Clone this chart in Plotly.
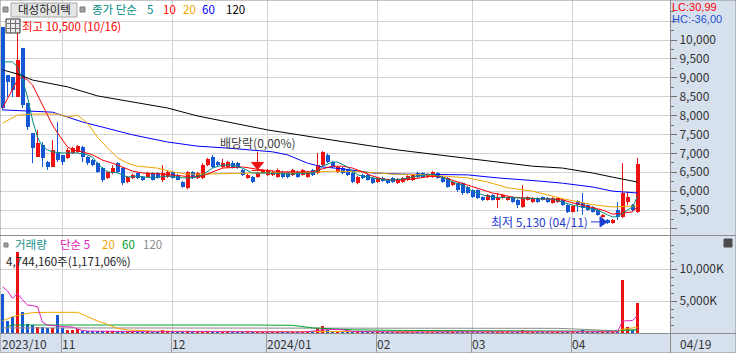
import plotly.graph_objects as go

W, H = 736, 353
FONT = "Noto Sans CJK KR"
LATIN = "Liberation Sans"

# ---------------- data ----------------
oct_days = [16, 17, 18, 19, 20, 23, 24, 25, 26, 27, 30, 31]
nov_days = [1, 2, 3, 6, 7, 8, 9, 10, 13, 14, 15, 16, 17, 20, 21, 22, 23, 24, 27, 28, 29, 30]
dec_days = [1, 4, 5, 6, 7, 8, 11, 12, 13, 14, 15, 18, 19, 20, 21, 22, 26, 27, 28]
jan_days = [2, 3, 4, 5, 8, 9, 10, 11, 12, 15, 16, 17, 18, 19, 22, 23, 24, 25, 26, 29, 30, 31]
feb_days = [1, 2, 5, 6, 7, 8, 13, 14, 15, 16, 19, 20, 21, 22, 23, 26, 27, 28, 29]
mar_days = [4, 5, 6, 7, 8, 11, 12, 13, 14, 15, 18, 19, 20, 21, 22, 25, 26, 27, 28, 29]
apr_days = [1, 2, 3, 4, 5, 8, 9, 11, 12, 15, 16, 17, 18, 19]

dates = ([f"2023-10-{d:02d}" for d in oct_days] + [f"2023-11-{d:02d}" for d in nov_days] +
         [f"2023-12-{d:02d}" for d in dec_days] + [f"2024-01-{d:02d}" for d in jan_days] +
         [f"2024-02-{d:02d}" for d in feb_days] + [f"2024-03-{d:02d}" for d in mar_days] +
         [f"2024-04-{d:02d}" for d in apr_days])

month_prefix = ["2023-10", "2023-11", "2023-12", "2024-01", "2024-02", "2024-03", "2024-04"]
month_text = ["2023/10", "11", "12", "2024/01", "02", "03", "04"]

open_ = [10340, 9070, 9020, 8490, 9790, 8330, 7540, 6900, 7220, 6770,
         6640, 7010, 6960, 6880, 7010, 7040, 7170, 6900, 6820, 6740,
         6610, 6350, 6480, 6740, 6610, 6240, 6350, 6480, 6370, 6370,
         6480, 6480, 6300, 6370, 6500, 6430, 6240, 6080, 6500, 6350,
         6350, 6690, 6900, 6770, 6640, 6640, 6740, 6740, 6560, 6350,
         6370, 6370, 6480, 6430, 6430, 6370, 6510, 6500, 6430, 6510,
         6430, 6380, 6560, 6480, 6690, 6960, 6770, 6510, 6610, 6560,
         6480, 6210, 6430, 6430, 6350, 6240, 6350, 6300, 6350, 6210,
         6240, 6290, 6290, 6480, 6480, 6370, 6370, 6480, 6370, 6350,
         6160, 6210, 6210, 6110, 6030, 6030, 5840, 5770, 5900, 5770,
         5820, 5770, 5840, 5770, 5580, 5770, 5710, 5820, 5840, 5820,
         5690, 5710, 5770, 5630, 5450, 5740, 5690, 5630, 5580, 5500,
         5320, 5240, 5160, 5500, 5315, 5710, 5630, 5450]
high = [10340, 9070, 9020, 10500, 9790, 8330, 7540, 7620, 7300, 6800,
        7350, 7830, 6960, 7140, 7170, 7220, 7200, 6930, 6850, 6770,
        6640, 6530, 6690, 6770, 6640, 6400, 6460, 6500, 6400, 6510,
        6500, 6500, 6690, 6530, 6530, 6460, 6270, 6530, 6530, 6510,
        6740, 6880, 6960, 6800, 6850, 6800, 6800, 6770, 6590, 6460,
        6400, 6510, 6590, 6590, 6540, 6600, 6540, 6520, 6590, 6540,
        6590, 6540, 6590, 7010, 7060, 7000, 6800, 6660, 6640, 6590,
        6510, 6400, 6460, 6460, 6380, 6380, 6380, 6320, 6370, 6350,
        6370, 6420, 6450, 6510, 6500, 6470, 6530, 6500, 6390, 6370,
        6260, 6230, 6230, 6130, 6050, 6050, 5860, 5920, 5920, 5950,
        5920, 5860, 5860, 5790, 6160, 5860, 5840, 5840, 5860, 5840,
        5840, 5840, 5790, 5650, 5620, 5760, 5950, 5650, 5600, 5520,
        5390, 5260, 5260, 5710, 6740, 5980, 5660, 6880]
low = [8150, 8490, 8490, 8490, 8200, 7620, 6740, 6900, 6640, 6560,
       6640, 6770, 6690, 6850, 6980, 7010, 6770, 6690, 6660, 6480,
       6240, 6320, 6450, 6480, 6160, 6210, 6320, 6320, 6270, 6350,
       6280, 6330, 6240, 6350, 6330, 6300, 6090, 6050, 6320, 6320,
       6320, 6660, 6610, 6640, 6610, 6620, 6600, 6590, 6400, 6330,
       6210, 6350, 6460, 6400, 6400, 6350, 6340, 6340, 6400, 6350,
       6410, 6350, 6400, 6450, 6640, 6740, 6610, 6480, 6450, 6400,
       6210, 6180, 6320, 6280, 6190, 6220, 6250, 6190, 6220, 6190,
       6220, 6270, 6270, 6350, 6350, 6350, 6350, 6330, 6220, 6090,
       6140, 5980, 5900, 5930, 5820, 5790, 5740, 5750, 5750, 5550,
       5800, 5750, 5690, 5550, 5560, 5750, 5690, 5690, 5750, 5690,
       5670, 5690, 5610, 5420, 5430, 5450, 5370, 5480, 5430, 5350,
       5300, 5130, 5140, 5235, 5290, 5630, 5470, 5420]
close = [8200, 8890, 8680, 9470, 8280, 7700, 7140, 7270, 6880, 6640,
         7090, 6820, 6770, 7090, 7140, 7190, 6900, 6740, 6690, 6500,
         6300, 6500, 6610, 6500, 6210, 6370, 6430, 6350, 6300, 6480,
         6300, 6350, 6480, 6500, 6350, 6300, 6110, 6500, 6350, 6480,
         6690, 6850, 6640, 6690, 6740, 6770, 6610, 6610, 6430, 6430,
         6240, 6480, 6560, 6560, 6510, 6560, 6370, 6380, 6560, 6380,
         6560, 6510, 6430, 6690, 7040, 6770, 6640, 6640, 6480, 6430,
         6240, 6370, 6350, 6300, 6210, 6350, 6270, 6210, 6240, 6320,
         6350, 6400, 6430, 6370, 6370, 6450, 6510, 6350, 6240, 6110,
         6240, 6030, 5950, 5950, 5840, 5820, 5770, 5900, 5770, 5840,
         5900, 5840, 5710, 5630, 5820, 5840, 5820, 5710, 5770, 5710,
         5820, 5820, 5630, 5450, 5600, 5630, 5550, 5500, 5450, 5370,
         5370, 5160, 5240, 5315, 5950, 5840, 5500, 6720]

# volume, thousands of shares
volume_k = [6094, 1875, 2550, 12708, 3333, 1354, 1250, 990, 990, 730,
            730, 2810, 730, 470, 470, 570, 365, 260, 200, 300,
            350, 200, 250, 200, 300, 150, 150, 150, 120, 200,
            150, 150, 400, 200, 180, 150, 200, 350, 200, 150,
            300, 300, 250, 150, 150, 200, 150, 150, 150, 120,
            150, 150, 120, 120, 120, 150, 120, 150, 120, 120,
            150, 150, 150, 800, 1100, 450, 250, 200, 150, 150,
            300, 150, 120, 150, 150, 120, 100, 100, 100, 120,
            120, 150, 150, 150, 120, 120, 150, 120, 150, 250,
            150, 200, 250, 150, 200, 250, 150, 150, 150, 300,
            120, 120, 150, 200, 500, 200, 150, 120, 120, 150,
            150, 120, 150, 250, 200, 250, 400, 200, 200, 250,
            150, 200, 150, 200, 8280, 990, 405, 4744]

# moving averages (candle index, value)
ma5_i = [0, 2, 3, 4, 5, 6, 7, 8, 9, 10, 12, 15, 17, 18, 19, 20, 21, 23, 24, 25,
         27, 30, 33, 36, 38, 40, 42, 44, 46, 48, 50, 53, 57, 62, 63, 64, 66, 67, 69, 71,
         74, 77, 80, 83, 86, 88, 90, 92, 94, 96, 98, 103, 107, 110, 112, 114, 117, 119, 121, 122,
         123, 124, 125, 126, 127]
ma5_v = [9420, 9420, 9290, 8940, 8490, 7880, 7430, 7170, 7090, 7040, 7010, 7010, 6960, 6900, 6740, 6610, 6510, 6480, 6430, 6370,
         6400, 6350, 6400, 6350, 6350, 6430, 6610, 6690, 6690, 6610, 6480, 6480, 6450, 6480, 6530, 6660, 6770, 6770, 6640, 6430,
         6350, 6290, 6320, 6400, 6450, 6370, 6240, 6160, 6000, 5900, 5840, 5820, 5820, 5790, 5710, 5630, 5550, 5500, 5370, 5320,
         5320, 5420, 5500, 5580, 5860]
ma10_i = [0, 3, 4, 5, 6, 7, 8, 9, 10, 11, 12, 13, 14, 16, 18, 20, 22, 24, 26, 28,
          32, 36, 38, 40, 42, 44, 48, 52, 56, 60, 62, 64, 66, 68, 70, 72, 74, 76, 79, 82,
          86, 88, 90, 92, 94, 96, 98, 100, 102, 104, 108, 112, 114, 116, 118, 120, 122, 124, 126, 127]
ma10_v = [8200, 8940, 9020, 8940, 8810, 8540, 8280, 8010, 7750, 7540, 7350, 7170, 7090, 7040, 6960, 6820, 6740, 6640, 6530, 6480,
          6450, 6400, 6370, 6400, 6510, 6610, 6640, 6560, 6510, 6510, 6510, 6590, 6660, 6660, 6610, 6510, 6400, 6320, 6290, 6320,
          6400, 6370, 6290, 6210, 6110, 6030, 5950, 5900, 5840, 5820, 5790, 5770, 5690, 5630, 5580, 5500, 5390, 5420, 5450, 5590]
ma20_i = [0, 3, 6, 11, 13, 15, 17, 19, 21, 23, 25, 27, 31, 34, 37, 40, 50, 60, 66, 72,
          78, 85, 88, 93, 97, 101, 106, 112, 118, 122, 127]
ma20_v = [7800, 8010, 8040, 8040, 7960, 8010, 7800, 7430, 7140, 6880, 6740, 6660, 6610, 6510, 6450, 6450, 6480, 6480, 6530, 6510,
          6450, 6430, 6400, 6350, 6240, 6090, 6000, 5800, 5640, 5580, 5610]
ma60_i = [0, 10, 16, 20, 26, 33, 39, 45, 54, 57, 61, 64, 68, 74, 80, 93, 99, 107, 112, 118, 122, 127]
ma60_v = [8150, 8090, 7830, 7700, 7490, 7300, 7190, 7140, 7040, 6960, 6740, 6640, 6590, 6480, 6450, 6430, 6350, 6270, 6210, 6110, 6000, 5950]
ma120_i = [0, 3, 6, 13, 19, 26, 33, 39, 53, 66, 79, 99, 106, 112, 118, 122, 127]
ma120_v = [9210, 9100, 8940, 8760, 8520, 8360, 8200, 7990, 7620, 7350, 7090, 6770, 6660, 6610, 6480, 6370, 6240]

vma5_i = [0, 1, 2, 3, 4, 5, 6, 7, 8, 9, 10, 11, 12, 14, 15, 16, 17, 20, 25, 30,
          40, 50, 60, 62, 64, 66, 68, 70, 80, 90, 100, 104, 106, 110, 115, 120, 123, 124, 125, 126, 127]
vma5_v = [7240, 6560, 5420, 6200, 5160, 4375, 4270, 4110, 1670, 1250, 1150, 1150, 990, 940, 625, 400, 300, 280, 200, 200,
          220, 170, 160, 280, 480, 560, 500, 250, 150, 180, 200, 250, 260, 180, 250, 220, 200, 1870, 1900, 1950, 2700]
vma20_i = [0, 2, 4, 6, 9, 15, 17, 19, 21, 23, 25, 30, 40, 60, 66, 80, 100, 120, 123, 124, 127]
vma20_v = [1875, 2550, 2920, 3180, 3230, 3230, 2550, 1875, 1350, 730, 470, 300, 250, 200, 270, 200, 200, 210, 220, 600, 880]
vma60_i = [1, 2, 50, 58, 62, 70, 80, 100, 120, 123, 124, 127]
vma60_v = [1000, 1250, 1250, 1200, 800, 500, 400, 300, 280, 280, 420, 500]
vma120_i = [0, 111, 116, 122, 127]
vma120_v = [800, 730, 575, 360, 470]

price_ticks = [5000, 5500, 6000, 6500, 7000, 7500, 8000, 8500, 9000, 9500, 10000, 10500]
price_minor = [5250, 5750, 6250, 6750, 7250, 7750, 8250, 8750, 9250, 9750, 10250, 10750]
vol_ticks = [5000, 10000]
vol_minor = [1250, 2500, 3750, 6250, 7500, 8750, 11250, 12500, 13750]

# ---------------- helpers ----------------
def px(x):
    return x / W


def py(y):
    return 1 - y / H


RED = "#ee1111"
BLUE = "#1558d6"
GRID = "#d2d2d2"
FRAME = "#8c8c8c"
PANEL = "#d7e1ee"

n = len(dates)
xi = list(range(n))
month_idx = [next(i for i, d in enumerate(dates) if d.startswith(p)) for p in month_prefix]

up = [c >= o for o, c in zip(open_, close)]

fig = go.Figure()

# candle bodies and wicks
for flag, col in ((True, RED), (False, BLUE)):
    idx = [i for i in xi if up[i] == flag]
    fig.add_trace(go.Bar(
        x=idx,
        y=[abs(close[i] - open_[i]) for i in idx],
        base=[min(open_[i], close[i]) for i in idx],
        width=0.8, marker=dict(color=col, line=dict(width=0)),
        xaxis="x", yaxis="y", hoverinfo="skip"))
    wx, wy = [], []
    for i in idx:
        wx += [i, i, None]
        wy += [low[i], high[i], None]
    fig.add_trace(go.Scatter(x=wx, y=wy, mode="lines", line=dict(color=col, width=1),
                             xaxis="x", yaxis="y", hoverinfo="skip"))

# price moving averages
for mi, mv, col in ((ma120_i, ma120_v, "#000000"), (ma60_i, ma60_v, "#0000ff"),
                    (ma20_i, ma20_v, "#f0a500"), (ma10_i, ma10_v, "#ff0000"),
                    (ma5_i, ma5_v, "#008b84")):
    fig.add_trace(go.Scatter(x=mi, y=mv, mode="lines", line=dict(color=col, width=1),
                             xaxis="x", yaxis="y", hoverinfo="skip"))

# volume bars
fig.add_trace(go.Bar(x=xi, y=volume_k, width=0.7,
                     marker=dict(color=[RED if u else BLUE for u in up], line=dict(width=0)),
                     xaxis="x2", yaxis="y2", hoverinfo="skip"))
for mi, mv, col in ((vma120_i, vma120_v, "#8a8a8a"), (vma60_i, vma60_v, "#00a030"),
                    (vma20_i, vma20_v, "#f0a500"), (vma5_i, vma5_v, "#dd22bb")):
    fig.add_trace(go.Scatter(x=mi, y=mv, mode="lines", line=dict(color=col, width=1),
                             xaxis="x2", yaxis="y2", hoverinfo="skip"))

PRICE_TOP = 10000 + 40 * 26.47
PRICE_BOT = 10000 - 195 * 26.47
VOL_TOP = (333 - 236) * 156.25

tickfont = dict(family=FONT, size=12, color="#333333")
fig.update_layout(
    width=W, height=H, margin=dict(l=0, r=0, t=0, b=0),
    paper_bgcolor=PANEL, plot_bgcolor="#ffffff",
    showlegend=False, barmode="overlay", bargap=0,
    xaxis=dict(domain=[0, px(670)], range=[-0.5, 133.5], anchor="y",
               tickvals=month_idx[1:], showticklabels=False, ticks="",
               showgrid=True, gridcolor=GRID, gridwidth=1, zeroline=False, showline=False),
    xaxis2=dict(domain=[0, px(670)], range=[-0.5, 133.5], anchor="y2", matches="x",
                tickvals=month_idx[1:], showticklabels=False, ticks="",
                showgrid=True, gridcolor=GRID, gridwidth=1, zeroline=False, showline=False),
    yaxis=dict(domain=[py(235), 1], range=[PRICE_BOT, PRICE_TOP], anchor="x", side="right",
               tickvals=price_ticks,
               ticktext=["" if v in (5000, 10500) else f"{v:,}" for v in price_ticks],
               ticks="outside", ticklen=6, tickcolor="#707070", tickwidth=1, tickfont=tickfont,
               showgrid=True, gridcolor=GRID, gridwidth=1, zeroline=False, showline=False,
               automargin=False,
               minor=dict(tickvals=price_minor, ticks="outside", ticklen=3, tickcolor="#707070",
                          showgrid=False)),
    yaxis2=dict(domain=[py(333), py(236)], range=[0, VOL_TOP], anchor="x2", side="right",
                tickvals=vol_ticks, ticktext=[f"{v:,}K" for v in vol_ticks],
                ticks="outside", ticklen=6, tickcolor="#707070", tickwidth=1, tickfont=tickfont,
                showgrid=True, gridcolor=GRID, gridwidth=1, zeroline=False, showline=False,
                automargin=False,
                minor=dict(tickvals=vol_minor, ticks="outside", ticklen=3, tickcolor="#707070",
                           showgrid=False)),
)

shapes = []


def hline(y, x0=0, x1=W, color=FRAME):
    shapes.append(dict(type="line", xref="paper", yref="paper", x0=px(x0), x1=px(x1),
                       y0=py(y), y1=py(y), line=dict(color=color, width=1)))


def vline(x, y0, y1, color=FRAME):
    shapes.append(dict(type="line", xref="paper", yref="paper", x0=px(x), x1=px(x),
                       y0=py(y0), y1=py(y1), line=dict(color=color, width=1)))


def rect(x0, y0, x1, y1, fill, line):
    shapes.append(dict(type="rect", xref="paper", yref="paper", x0=px(x0), x1=px(x1),
                       y0=py(y1), y1=py(y0), fillcolor=fill, line=dict(color=line, width=1)))


# pane separators & frame
hline(235.5)
hline(333.5)
vline(670.5, 0, 353)
shapes.append(dict(type="rect", xref="paper", yref="paper", x0=0, x1=1, y0=0, y1=1,
                   line=dict(color=FRAME, width=1)))
# date band separators
for m in month_idx[1:]:
    shapes.append(dict(type="line", xref="x2", yref="paper", x0=m - 0.2, x1=m - 0.2,
                       y0=py(353), y1=py(334), line=dict(color="#9a9a9a", width=1)))

# legend widgets
rect(3, 7, 8, 12, "#a0a0a0", "#7a7a7a")
rect(11, 3, 77, 17, "#e4e4e4", "#a8a8a8")
rect(80, 7, 85, 12, "#a0a0a0", "#7a7a7a")
rect(6, 19, 20, 33, "#ececec", "#303030")
vline(10.5, 20, 33, "#707070")
vline(15.5, 20, 33, "#707070")
hline(23.5, 7, 20, "#707070")
hline(28.5, 7, 20, "#707070")
rect(4, 243, 8, 247, "#a0a0a0", "#7a7a7a")
rect(724, 239, 732, 247, "#4a4a4a", "#4a4a4a")

# dividend marker (red down arrow)
div_i = dates.index("2023-12-27")
shapes.append(dict(type="line", xref="x", yref="y", x0=div_i, x1=div_i, y0=7040, y1=6760,
                   line=dict(color=RED, width=1)))
shapes.append(dict(type="path", xref="x", yref="y",
                   path=f"M {div_i - 1.2},6760 L {div_i + 1.2},6760 L {div_i},6575 Z",
                   fillcolor=RED, line=dict(color=RED, width=1)))
shapes.append(dict(type="line", xref="x", yref="y", x0=div_i - 1.2, x1=div_i + 1.2, y0=6545, y1=6545,
                   line=dict(color=RED, width=1)))

# lowest-price arrow
low_i = dates.index("2024-04-11")
LOWC = "#1e3cd2"
shapes.append(dict(type="line", xref="x", yref="y", x0=low_i - 3.3, x1=low_i - 1.2, y0=5185, y1=5185,
                   line=dict(color=LOWC, width=1)))
shapes.append(dict(type="path", xref="x", yref="y",
                   path=f"M {low_i - 1.5},5320 L {low_i - 1.5},5050 L {low_i - 0.1},5185 Z",
                   fillcolor=LOWC, line=dict(color=LOWC, width=1)))

fig.update_layout(shapes=shapes)


def label(x, y, text, color, anchor="left", size=12, family=FONT):
    fig.add_annotation(x=px(x), y=py(y), xref="paper", yref="paper", text=text,
                       showarrow=False, xanchor=anchor, yanchor="middle",
                       font=dict(family=family, size=size, color=color), borderpad=0)


# top legend row
label(44, 9, "대성하이텍", "#222222", anchor="center", size=11.5)
label(91, 9, "종가 단순", "#008b84", size=11.5)
label(146, 9, "5", "#008b84", size=11.5)
label(162, 9, "10", "#ff0000", size=11.5)
label(182, 9, "20", "#f0a500", size=11.5)
label(201, 9, "60", "#0000ff", size=11.5)
label(225, 9, "120", "#000000", size=11.5)
label(21, 26, "최고 10,500 (10/16)", "#ff0000", size=11.5)
# right panel header
label(671, 6.5, "LC:30,99", "#ff0000", size=11, family=LATIN)
label(671, 19, "HC:-36,00", "#1e50d0", size=11, family=LATIN)

# volume legend
label(14, 244, "거래량", "#208f8a", size=11.5)
label(59, 244, "단순 5", "#dd22bb", size=11.5)
label(101, 244, "20", "#f0a500", size=11.5)
label(121, 244, "60", "#00a030", size=11.5)
label(142, 244, "120", "#8a8a8a", size=11.5)
label(5, 261, "4,744,160주(1,171,06%)", "#222222", size=11.5)

fig.add_annotation(x=div_i, y=7300, xref="x", yref="y", text="배당락(0,00%)", showarrow=False,
                   xanchor="center", yanchor="middle", borderpad=0,
                   font=dict(family=FONT, size=12, color="#404040"))
fig.add_annotation(x=low_i - 3.7, y=5185, xref="x", yref="y", text="최저 5,130 (04/11)", showarrow=False,
                   xanchor="right", yanchor="middle", borderpad=0,
                   font=dict(family=FONT, size=12, color=LOWC))

# date band labels
for m, t in zip(month_idx, month_text):
    fig.add_annotation(x=m - 0.3, y=py(343), xref="x2", yref="paper", text=t, showarrow=False,
                       xanchor="left", yanchor="middle", borderpad=0,
                       font=dict(family=FONT, size=12, color="#333333"))
label(679, 343, "04/19", "#333333")

fig.write_html("out.html")
